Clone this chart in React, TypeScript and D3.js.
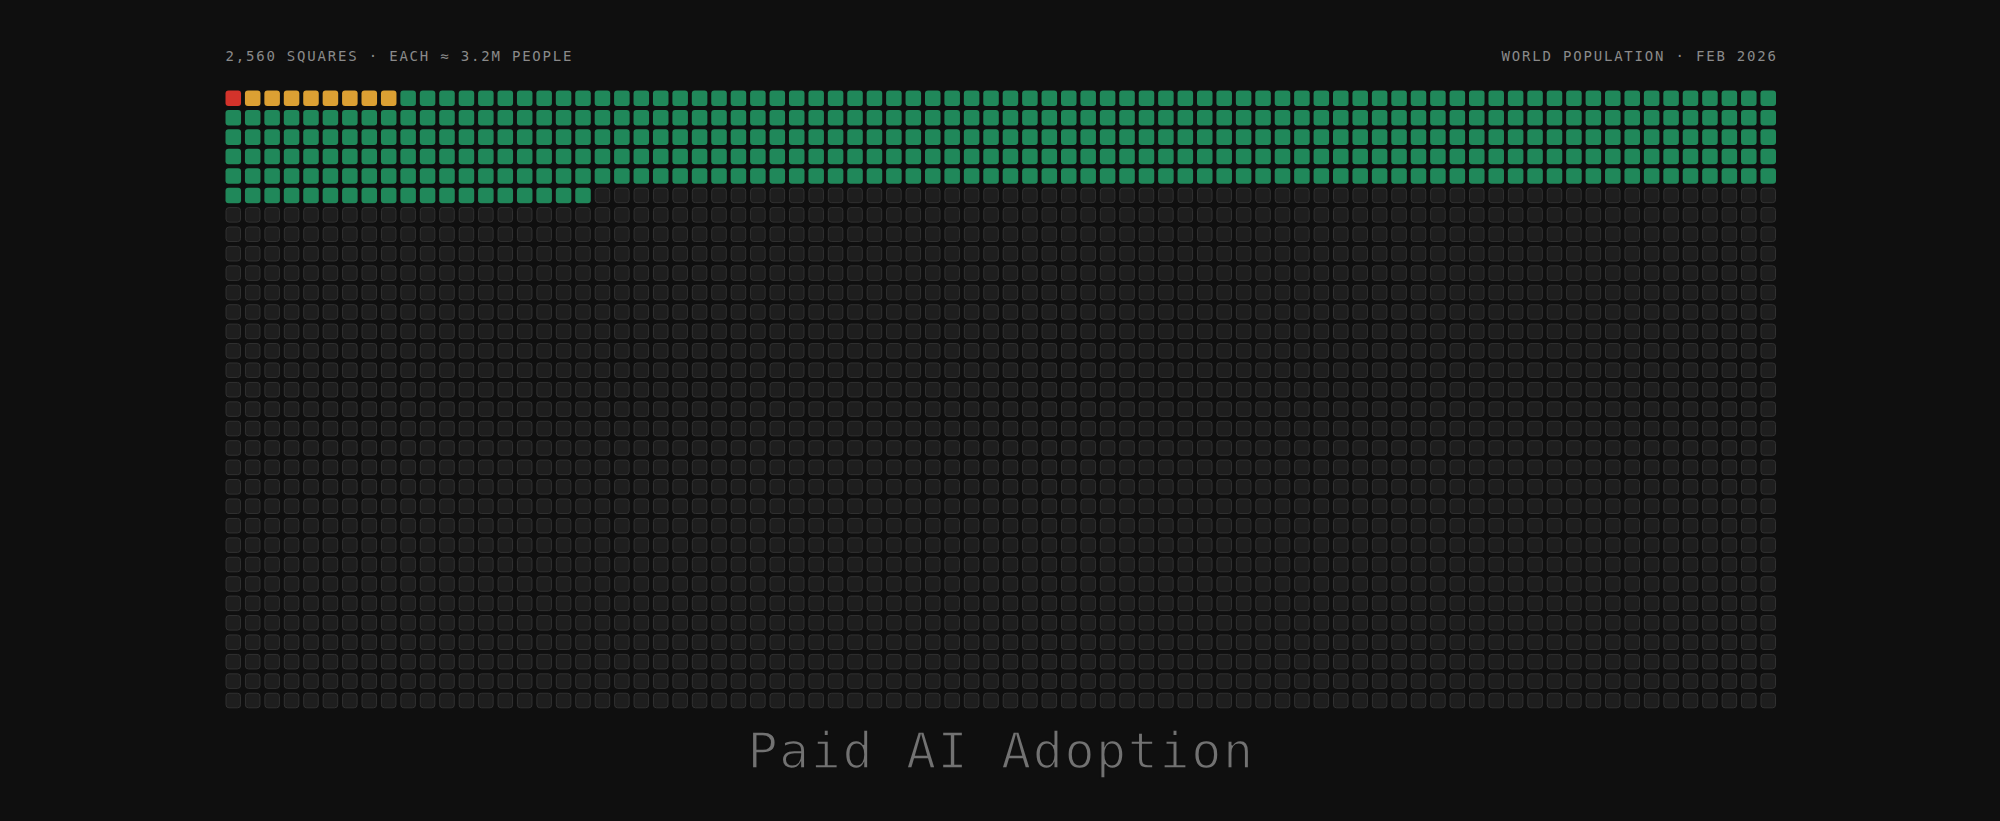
import React from "react";
import * as d3 from "d3";

// Waffle layout: 80 columns x 32 rows = 2,560 squares
const columns = d3.range(80);
const rows = d3.range(32);

// Filled squares per segment, in reading order
const segmentNames = ["Top tier", "Paid tier", "Adopters"];
const segmentCounts = [1, 8, 410];
const segmentColors = ["#d3332b", "#dca033", "#20885a"];

const headerLeft = "2,560 SQUARES \u00b7 EACH \u2248 3.2M PEOPLE";
const headerRight = "WORLD POPULATION \u00b7 FEB 2026";
const title = "Paid AI Adoption";

const W = 2000;
const H = 821;
const MONO = "'DejaVu Sans Mono', monospace";
const BG = "#0f0f0f";

export default function App() {
  const x = d3
    .scaleBand<number>()
    .domain(columns)
    .range([225.5, 1776])
    .paddingInner(0.2)
    .paddingOuter(0);
  const y = d3
    .scaleBand<number>()
    .domain(rows)
    .range([90.5, 708.3])
    .paddingInner(0.2)
    .paddingOuter(0);

  // cumulative thresholds for segment assignment
  const ends = d3.cumsum(segmentCounts);
  const total = columns.length * rows.length;
  const cells = d3.range(total).map((i) => {
    const seg = ends.findIndex((e) => i < e);
    return {
      i,
      col: i % columns.length,
      row: Math.floor(i / columns.length),
      seg,
    };
  });

  const size = x.bandwidth();

  return (
    <svg
      width={W}
      height={H}
      style={{ position: "absolute", left: 0, top: 0, display: "block" }}
    >
      <rect width={W} height={H} fill={BG} />
      <text
        x={225.5}
        y={60.5}
        fill="#8a8a8a"
        fontFamily={MONO}
        fontSize={14}
        letterSpacing={1.8}
      >
        {headerLeft}
      </text>
      <text
        x={1777.8}
        y={60.5}
        fill="#8a8a8a"
        fontFamily={MONO}
        fontSize={14}
        letterSpacing={1.8}
        textAnchor="end"
      >
        {headerRight}
      </text>
      <g>
        {cells.map((c) =>
          c.seg >= 0 ? (
            <rect
              key={c.i}
              x={x(c.col)}
              y={y(c.row)}
              width={size}
              height={y.bandwidth()}
              rx={3}
              fill={segmentColors[c.seg]}
            >
              <title>{segmentNames[c.seg]}</title>
            </rect>
          ) : (
            <rect
              key={c.i}
              x={(x(c.col) as number) + 0.5}
              y={(y(c.row) as number) + 0.5}
              width={size - 1}
              height={y.bandwidth() - 1}
              rx={3}
              fill="#1e1e1e"
              stroke="#313131"
              strokeWidth={1}
            />
          )
        )}
      </g>
      {/* title drawn with a background-coloured outline for a lighter stroke */}
      <text
        x={1001}
        y={767.5}
        fill="#727272"
        stroke={BG}
        strokeWidth={1.6}
        fontFamily={MONO}
        fontSize={50}
        letterSpacing={1.6}
        textAnchor="middle"
      >
        {title}
      </text>
    </svg>
  );
}
